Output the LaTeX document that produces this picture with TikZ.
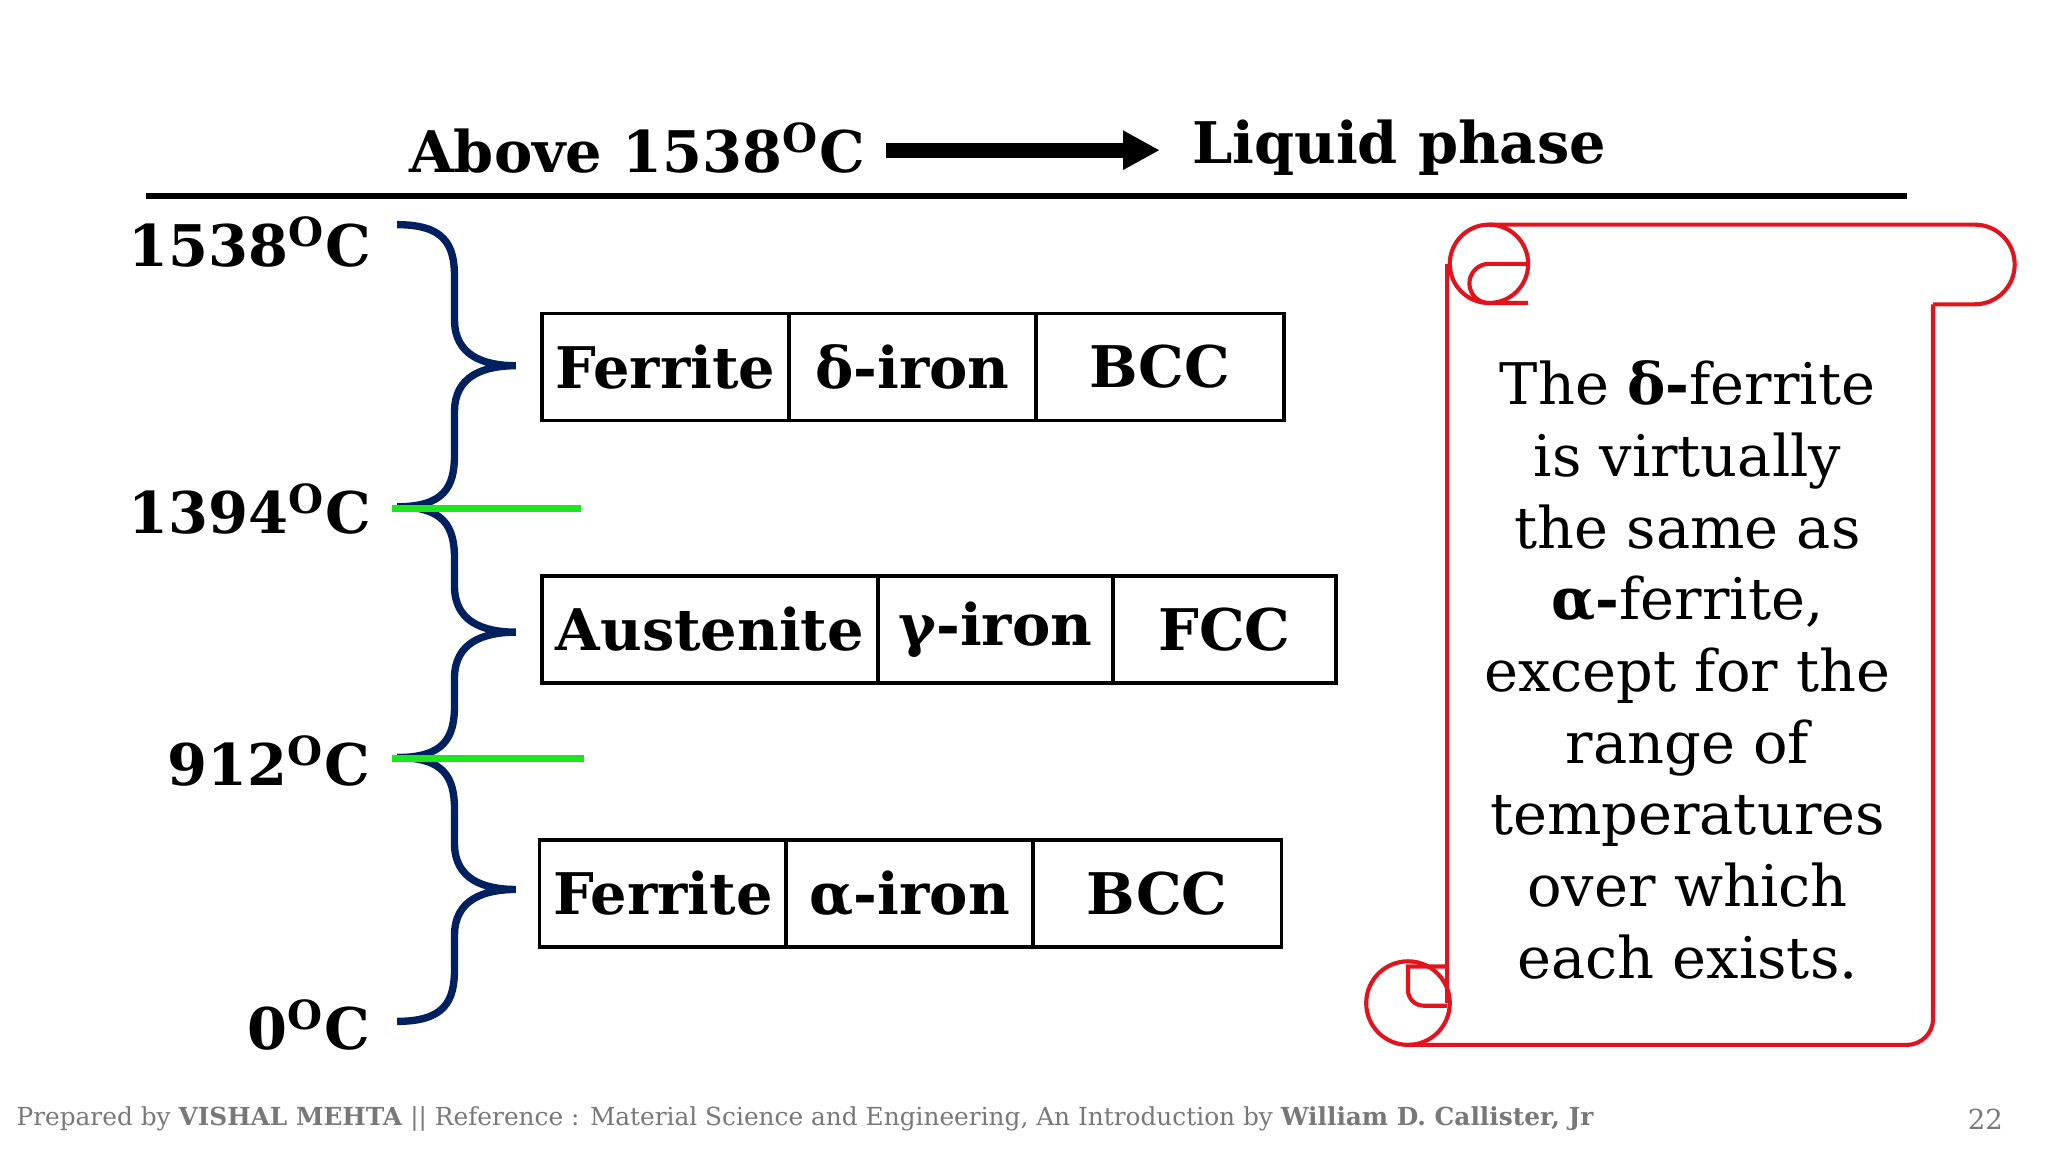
\documentclass[tikz,border=0pt]{standalone}
\usepackage{fontspec}
\setmainfont{DejaVu Serif}
\usetikzlibrary{arrows.meta}
\definecolor{navy}{RGB}{0,32,96}
\definecolor{grn}{RGB}{30,230,30}
\definecolor{scr}{RGB}{225,20,30}
\definecolor{foot}{RGB}{120,120,120}
\tikzset{
 big/.style={font=\bfseries\fontsize{12.5}{15}\selectfont, inner sep=0pt},
 temp/.style={font=\bfseries\fontsize{12.5}{15}\selectfont, anchor=east, inner sep=0pt},
 cell/.style={draw, line width=0.8pt, minimum height=0.82cm, font=\bfseries\fontsize{12.5}{15}\selectfont, inner sep=0pt},
 brace/.style={navy, line width=1.6pt},
 gline/.style={grn, line width=1.5pt},
 scroll/.style={scr, line width=0.9pt},
}
\newcommand{\degC}{\textsuperscript{O}C}
\begin{document}
\begin{tikzpicture}[x=0.01cm,y=-0.01cm]
\useasboundingbox[fill=white] (0,0) rectangle (1568,882);
% title
\node[big, anchor=east] (above) at (663,113) {Above 1538\degC};
\node[big, anchor=west] (liq) at (912,113) {Liquid phase};
\coordinate (a0) at (678,115);
\coordinate (a1) at (888,115);
\draw[line width=3.2pt,-{Triangle[length=8pt,width=8pt]}] (a0) -- (a1);
\draw[line width=1.2pt] (112,150) -- (1460,150);
% temps
\node[temp] (t1) at (285,185) {1538\degC};
\node[temp] (t2) at (285,390) {1394\degC};
\node[temp] (t3) at (284,583) {912\degC};
\node[temp] (t4) at (284,785) {0\degC};
% braces
\foreach \a/\b in {172/388, 388/580, 580/782}{
 \pgfmathsetmacro{\m}{(\a+\b)/2}
 \draw[brace] (304,\a) .. controls (340,\a) and (348,\a+15) .. (348,\a+40)
   -- (348,\m-35) .. controls (348,\m-8) and (370,\m) .. (395,\m)
   .. controls (370,\m) and (348,\m+8) .. (348,\m+35)
   -- (348,\b-40) .. controls (348,\b-15) and (340,\b) .. (304,\b);
}
\draw[gline] (300,389) -- (445,389);
\draw[gline] (300,581) -- (447,581);
% boxes
\node[cell, minimum width=1.89cm] (f1) at (509.5,281) {Ferrite};
\node[cell, minimum width=1.89cm] (d1) at (698.5,281) {δ-iron};
\node[cell, minimum width=1.90cm] (b1) at (888,281) {BCC};
\node[cell, minimum width=2.57cm] (a2) at (543.5,482) {Austenite};
\node[cell, minimum width=1.80cm] (g2) at (762,482) {γ-iron};
\node[cell, minimum width=1.71cm] (c2) at (937.5,482) {FCC};
\node[cell, minimum width=1.89cm] (f3) at (507.5,684) {Ferrite};
\node[cell, minimum width=1.89cm] (a3) at (696.5,684) {α-iron};
\node[cell, minimum width=1.90cm] (b3) at (886,684) {BCC};
% scroll
\draw[scroll] (1140,172) -- (1512,172) arc[start angle=-90,end angle=90,radius=30.5] -- (1480,233);
\draw[scroll] (1140,202) circle[radius=30];
\draw[scroll] (1170,202) -- (1140,202) arc[start angle=-90,end angle=-270,radius=15] -- (1170,232);
\draw[scroll] (1108,202) -- (1108,768);
\draw[scroll] (1078,800) -- (1460,800) arc[start angle=90,end angle=0,radius=20] -- (1480,233);
\draw[scroll] (1078,768) circle[radius=32];
\draw[scroll] (1108,740) -- (1078,740) -- (1078,758) arc[start angle=180,end angle=90,radius=12] -- (1108,770);
\node[font=\fontsize{12.5}{15.6}\selectfont, align=center] (txt) at (1292,513) {The \textbf{δ-}ferrite\\is virtually\\the same as\\\textbf{α-}ferrite,\\except for the\\range of\\temperatures\\over which\\each exists.};
% footer
\node[font=\fontsize{5.4}{7}\selectfont, text=foot, anchor=west, inner sep=0] (ft) at (12,857) {Prepared by \textbf{VISHAL MEHTA} || Reference : Material Science and Engineering, An Introduction by \textbf{William D. Callister, Jr}};
\node[font=\fontsize{6}{8}\selectfont, text=foot] (pg) at (1520,857) {22};
\end{tikzpicture}
\end{document}
